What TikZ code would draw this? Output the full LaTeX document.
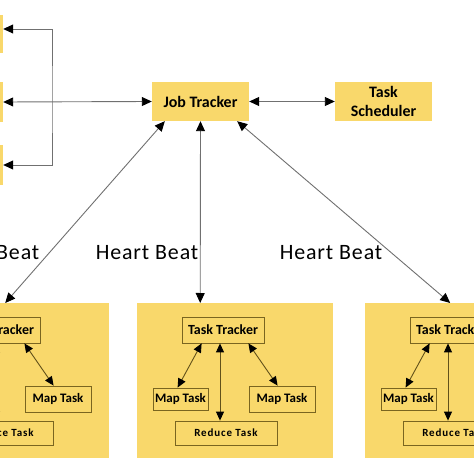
\documentclass[tikz,border=0pt]{standalone}
\usepackage{fontspec}
\setmainfont{Carlito}
\usetikzlibrary{arrows.meta, positioning, calc}
\definecolor{hdyellow}{HTML}{F9D86B}
\definecolor{hdline}{HTML}{707070}
\definecolor{hdedge}{HTML}{7A6520}

\begin{document}
\begin{tikzpicture}[x=1bp, y=-1bp,
    >={Triangle[length=10bp,width=9bp,color=black]},
    stub/.style={fill=hdyellow, minimum width=96bp, inner sep=0pt},
    jbox/.style={fill=hdyellow, minimum width=97bp, minimum height=39bp, inner sep=0pt, font=\bfseries\fontsize{16}{20}\selectfont},
    panel/.style={fill=hdyellow, minimum width=196bp, minimum height=155bp, inner sep=0pt},
    tbox/.style={draw=hdedge, line width=0.8bp, fill=hdyellow, inner sep=0pt, font=\bfseries\fontsize{13}{15}\selectfont},
    beat/.style={font=\fontsize{22}{26}\selectfont\addfontfeature{LetterSpace=4}},
    link/.style={<->, draw=hdline, line width=0.9bp},
    inlink/.style={<->, draw=hdedge!80!black, line width=0.9bp, >={Triangle[length=9bp,width=8bp,color=black]}}]

    % cadre visible
    \useasboundingbox (0,0) rectangle (474,474);
    \clip (0,0) rectangle (474,474);

    % boites de gauche (coupees)
    \node[stub, minimum height=38bp] (s1) at (-45,34) {};
    \node[stub, minimum height=40bp] (s2) at (-45,102) {};
    \node[stub, minimum height=40bp] (s3) at (-45,165) {};

    % Job Tracker et Task Scheduler
    \node[jbox] (jt) at (200.5,101.5) {Job Tracker};
    \node[jbox, align=center] (ts) at (383.5,101.5) {Task\\Scheduler};
    \coordinate (bus) at (52,101.5);

    \draw[link] ([yshift=5bp]s1.east) -| (bus) |- (s3.east);
    \draw[link] (s2.east) -- (jt.west);
    \draw[link] (jt.east) -- (ts.west);

    % les trois noeuds esclaves
    \foreach \i/\px in {1/-87, 2/137, 3/365} {
        \node[panel, anchor=north west] (p\i) at (\px,303) {};
        \node[tbox, minimum width=82bp, minimum height=26bp, font=\bfseries\fontsize{14}{16}\selectfont] (tt\i) at ($(p\i.north west)+(86,27)$) {Task Tracker};
        \node[tbox, minimum width=55bp, minimum height=22bp] (ml\i) at ($(p\i.north west)+(43.5,96)$) {Map Task};
        \node[tbox, minimum width=66bp, minimum height=26bp] (mr\i) at ($(p\i.north west)+(145,96)$) {Map Task};
        \node[tbox, minimum width=102bp, minimum height=24bp, font=\bfseries\fontsize{11}{13}\selectfont\addfontfeature{LetterSpace=8}] (rt\i) at ($(p\i.north west)+(89,130)$) {Reduce Task};
        \draw[inlink] ([xshift=20bp]tt\i.south west) -- ([xshift=25bp]ml\i.north west);
        \draw[inlink] ([xshift=-3bp]tt\i.south) -- ([xshift=-3bp]tt\i.south |- rt\i.north);
        \draw[inlink] ([xshift=-16bp]tt\i.south east) -- ([xshift=29bp]mr\i.north west);
    }

    % heart beat
    \draw[link] ([xshift=13bp]jt.south west) -- ([xshift=-6bp]p1.north);
    \draw[link] (jt.south) -- ([xshift=-35bp]p2.north);
    \draw[link] ([xshift=-12bp]jt.south east) -- ([xshift=-13bp]p3.north);
    \node[beat] (hb1) at (-12,253) {Heart Beat};
    \node[beat] (hb2) at (147,253) {Heart Beat};
    \node[beat] (hb3) at (331,253) {Heart Beat};

\end{tikzpicture}
\end{document}
